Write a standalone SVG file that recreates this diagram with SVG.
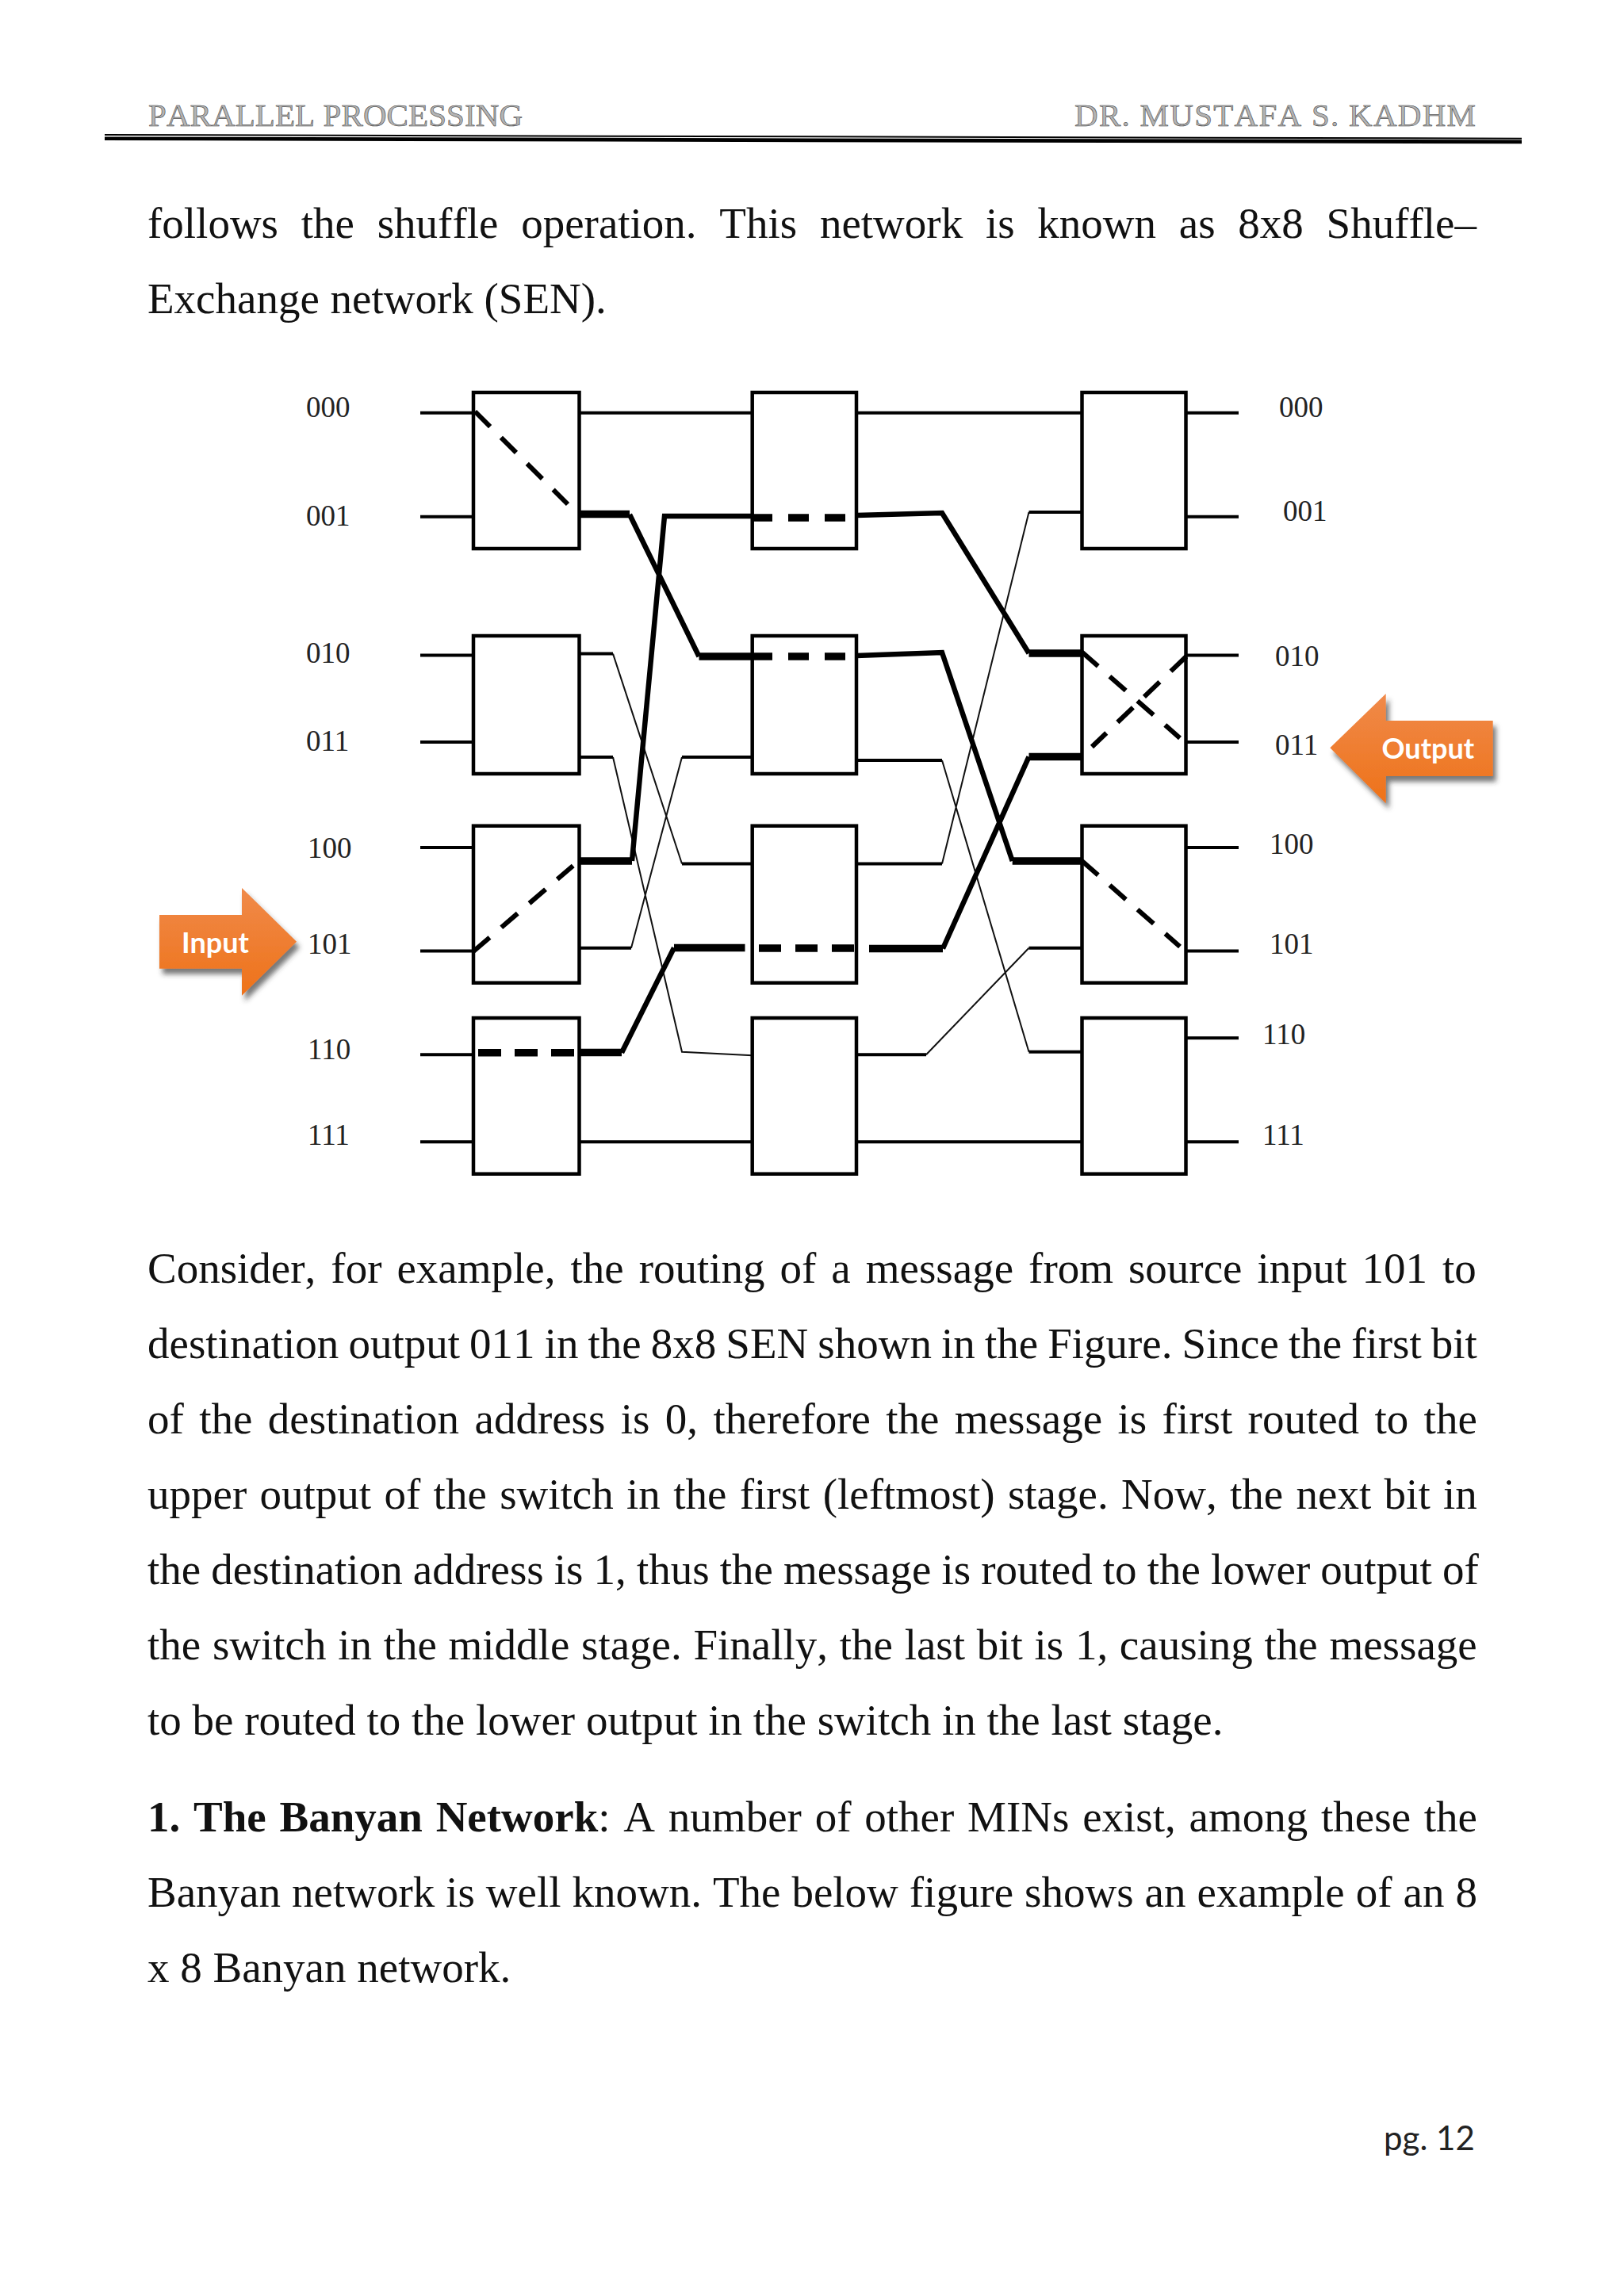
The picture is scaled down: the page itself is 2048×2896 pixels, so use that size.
<svg xmlns="http://www.w3.org/2000/svg" width="2048" height="2896" viewBox="0 0 2048 2896">
<style>
.body{font-family:"Liberation Serif","Times New Roman",serif;font-size:55px;fill:#111;font-kerning:none;font-variant-ligatures:none}
.b{font-weight:bold}
.hd{font-family:"Liberation Serif","Times New Roman",serif;font-size:41px;fill:#b4b4b4;stroke:#333;stroke-width:.55px;font-kerning:none}
.lab{font-family:"Liberation Serif","Times New Roman",serif;font-size:37px;fill:#222}
.sw{fill:none;stroke:#000;stroke-width:4.500}
.w{fill:none;stroke:#000;stroke-width:4;stroke-linejoin:miter}
.t{fill:none;stroke:#111;stroke-width:2}
.m{fill:none;stroke:#000;stroke-width:6.500}
.h{fill:none;stroke:#000;stroke-width:9.500}
.d{fill:none;stroke:#000;stroke-width:6;stroke-dasharray:27 19.500}
.dh{fill:none;stroke:#000;stroke-width:9.500}
.ar{font-family:Lato,"Open Sans",sans-serif;font-weight:bold;font-size:36px;fill:#fff}
.pg{font-family:Lato,"Open Sans",sans-serif;font-size:42px;fill:#222}
</style>
<defs>
<linearGradient id="og" x1="0" y1="0" x2="0" y2="1"><stop offset="0" stop-color="#f08a4a"/><stop offset="1" stop-color="#ee7219"/></linearGradient>
<filter id="sh" x="-20%" y="-20%" width="140%" height="140%"><feDropShadow dx="4" dy="7" stdDeviation="3" flood-color="#333" flood-opacity=".65"/></filter>
</defs>
<rect width="2048" height="2896" fill="#fff"/>

<g id="header">
<text class="hd" x="187" y="159" textLength="472" lengthAdjust="spacing">PARALLEL PROCESSING</text>
<text class="hd" x="1355" y="159" textLength="506" lengthAdjust="spacing">DR. MUSTAFA S. KADHM</text>
<polygon points="132,169 1919,173.700 1919,175.700 132,171" fill="#000"/>
<polygon points="132,172.400 1919,176.400 1919,181.300 132,177" fill="#000"/>
</g>

<g id="text-top">
<text class="body" x="186" y="300" word-spacing="15">follows the shuffle operation. This network is known as 8x8 Shuffle–</text>
<text class="body" x="186" y="395">Exchange network (SEN).</text>
</g>

<g id="connectors">
<path class="w" d="M530 520.700H597M530 651.800H597M530 826.400H597M530 936H597M530 1069H597M530 1199.500H597M530 1330.300H597M530 1440.200H597"/>
<path class="w" d="M1495.500 520.700H1562M1495.500 651.800H1562M1495.500 826.400H1562M1495.500 936H1562M1495.500 1069H1562M1495.500 1199.500H1562M1495.500 1309.300H1562M1495.500 1440.200H1562"/>
<path class="w" d="M730.500 520.700H948.700M730.500 1440.200H948.700M1080 520.700H1364.500M1080 1440.200H1364.500"/>
<path class="t" d="M773 824.600L860 1089.500M773 955L860 1326.700L948.700 1331.300M796 1195.700L860 955"/>
<path class="w" d="M730.500 824.600H773M730.500 955H773M730.500 1195.700H796M860 1089.500H948.700M860 955H948.700"/>
<path class="t" d="M1188 959L1297.500 1326.700M1188 1089.500L1297.500 646M1168 1330.300L1297.500 1195.700"/>
<path class="w" d="M1080 959H1188M1080 1089.500H1188M1080 1330.300H1168M1297.500 1326.700H1364.500M1297.500 646H1364.500M1297.500 1195.700H1364.500"/>
<path class="m" d="M794 649L881.500 828M797 1086L838 651H948.700M784 1327.700L850 1195.500M1080 650L1188 647L1297.500 824M1080 827L1188 823L1276.700 1086M1189 1196.500L1297.500 954.600"/>
<path class="h" d="M730.500 648.600H794M881.500 828H948.700M730.500 1086H797M730.500 1327.500H784M850 1195.500H939.500M1096 1196.500H1189M1297.500 824H1364.500M1276.700 1086H1364.500M1297.500 954.600H1364.500"/>
<path class="dh" stroke-dasharray="26 20" d="M948 653H1066"/>
<path class="dh" stroke-dasharray="26 20" d="M948 828H1066"/>
<path class="dh" stroke-dasharray="28 18" d="M957 1196H1080"/>
<path class="dh" stroke-dasharray="29 17" d="M603 1327.700H724"/>
<path class="d" d="M599 519L716 636"/>
<path class="d" d="M597 1200L722.700 1092"/>
<path class="d" d="M1364.500 822.500L1488 931"/>
<path class="d" d="M1496 828L1377 942"/>
<path class="d" d="M1364.500 1086L1488 1194"/>
</g>

<g id="switch-1-1"><rect class="sw" x="597" y="495" width="133.500" height="197"/></g>
<g id="switch-1-2"><rect class="sw" x="597" y="802" width="133.500" height="174"/></g>
<g id="switch-1-3"><rect class="sw" x="597" y="1041.700" width="133.500" height="198"/></g>
<g id="switch-1-4"><rect class="sw" x="597" y="1284" width="133.500" height="196.700"/></g>
<g id="switch-2-1"><rect class="sw" x="948.700" y="495" width="131.300" height="197"/></g>
<g id="switch-2-2"><rect class="sw" x="948.700" y="802" width="131.300" height="174"/></g>
<g id="switch-2-3"><rect class="sw" x="948.700" y="1041.700" width="131.300" height="198"/></g>
<g id="switch-2-4"><rect class="sw" x="948.700" y="1284" width="131.300" height="196.700"/></g>
<g id="switch-3-1"><rect class="sw" x="1364.500" y="495" width="131" height="197"/></g>
<g id="switch-3-2"><rect class="sw" x="1364.500" y="802" width="131" height="174"/></g>
<g id="switch-3-3"><rect class="sw" x="1364.500" y="1041.700" width="131" height="198"/></g>
<g id="switch-3-4"><rect class="sw" x="1364.500" y="1284" width="131" height="196.700"/></g>

<g id="input-labels">
<text class="lab" x="386" y="526">000</text>
<text class="lab" x="386" y="663">001</text>
<text class="lab" x="386" y="836">010</text>
<text class="lab" x="386" y="947">011</text>
<text class="lab" x="388" y="1082">100</text>
<text class="lab" x="388" y="1203">101</text>
<text class="lab" x="388" y="1336">110</text>
<text class="lab" x="388" y="1444">111</text>
</g>
<g id="output-labels">
<text class="lab" x="1613" y="526">000</text>
<text class="lab" x="1618" y="657">001</text>
<text class="lab" x="1608" y="840">010</text>
<text class="lab" x="1608" y="952">011</text>
<text class="lab" x="1601" y="1077">100</text>
<text class="lab" x="1601" y="1203">101</text>
<text class="lab" x="1592" y="1317">110</text>
<text class="lab" x="1592" y="1444">111</text>
</g>

<g id="input-arrow">
<polygon points="201,1154 305,1154 305,1120 374,1187.700 305,1255.700 305,1221.700 201,1221.700" fill="url(#og)" filter="url(#sh)"/>
<text class="ar" x="229" y="1201.500">Input</text>
</g>
<g id="output-arrow">
<polygon points="1882.700,909 1747.700,909 1747.700,875 1677.300,943.300 1747.700,1013.300 1747.700,979 1882.700,979" fill="url(#og)" filter="url(#sh)"/>
<text class="ar" x="1742.500" y="956.500">Output</text>
</g>

<g id="text-main">
<text class="body" x="186" y="1618" word-spacing="5.24">Consider, for example, the routing of a message from source input 101 to</text>
<text class="body" x="186" y="1713" word-spacing="-1.67">destination output 011 in the 8x8 SEN shown in the Figure. Since the first bit</text>
<text class="body" x="186" y="1808" word-spacing="5.62">of the destination address is 0, therefore the message is first routed to the</text>
<text class="body" x="186" y="1903" word-spacing="2.59">upper output of the switch in the first (leftmost) stage. Now, the next bit in</text>
<text class="body" x="186" y="1998" word-spacing="-.65">the destination address is 1, thus the message is routed to the lower output of</text>
<text class="body" x="186" y="2093" word-spacing=".95">the switch in the middle stage. Finally, the last bit is 1, causing the message</text>
<text class="body" x="186" y="2188">to be routed to the lower output in the switch in the last stage.</text>
<text class="body" x="186" y="2310" word-spacing="3.03"><tspan class="b">1. The Banyan Network</tspan>: A number of other MINs exist, among these the</text>
<text class="body" x="186" y="2405" word-spacing=".22">Banyan network is well known. The below figure shows an example of an 8</text>
<text class="body" x="186" y="2500">x 8 Banyan network.</text>
</g>
<text class="pg" x="1745" y="2712">pg. 12</text>
</svg>
